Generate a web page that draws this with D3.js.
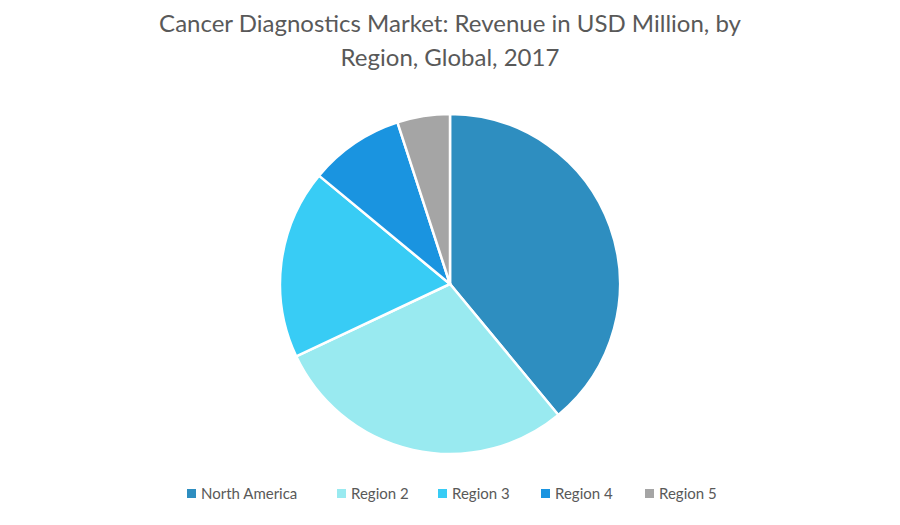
<!DOCTYPE html>
<html><head><meta charset="utf-8">
<script src="https://cdn.jsdelivr.net/npm/d3@7"></script>
<style>body{margin:0;background:#fff}</style>
</head><body>
<svg id="chart" width="900" height="525"></svg>
<script>
// Data (percent share)
var regions = ["North America", "Region 2", "Region 3", "Region 4", "Region 5"];
var shares = [39, 29, 18, 9, 5];
var colors = ["#2E8EC0", "#99EAF0", "#38CCF5", "#1A94E0", "#A5A5A5"];

var svg = d3.select("#chart");
var font = "Lato, 'Open Sans', sans-serif";

// Title
svg.append("text").attr("x", 450).attr("y", 32).attr("text-anchor", "middle")
  .style("font-family", font).style("font-size", "24px").attr("fill", "#595959")
  .text("Cancer Diagnostics Market: Revenue in USD Million, by");
svg.append("text").attr("x", 450).attr("y", 66).attr("text-anchor", "middle")
  .style("font-family", font).style("font-size", "24px").attr("fill", "#595959")
  .text("Region, Global, 2017");

var data = regions.map((r, i) => ({name: r, value: shares[i]}));
var pie = d3.pie().sort(null).value(d => d.value);
var arc = d3.arc().innerRadius(0).outerRadius(170);
var color = d3.scaleOrdinal().domain(regions).range(colors);

var g = svg.append("g").attr("transform", "translate(450,284)");
g.selectAll("path").data(pie(data)).enter().append("path")
  .attr("d", arc)
  .attr("fill", d => color(d.data.name))
  .attr("stroke", "#fff").attr("stroke-width", 2.5);

// Legend
var legendX = [187, 337, 438, 541, 645];
var legend = svg.append("g");
var items = legend.selectAll("g").data(regions).enter().append("g")
  .attr("transform", (d, i) => `translate(${legendX[i]},494)`);
items.append("rect").attr("x", 0).attr("y", -5).attr("width", 9).attr("height", 9)
  .attr("fill", d => color(d));
items.append("text").attr("x", 14).attr("y", 5)
  .style("font-family", font).style("font-size", "15px").attr("fill", "#595959")
  .text(d => d);
</script>
</body></html>
